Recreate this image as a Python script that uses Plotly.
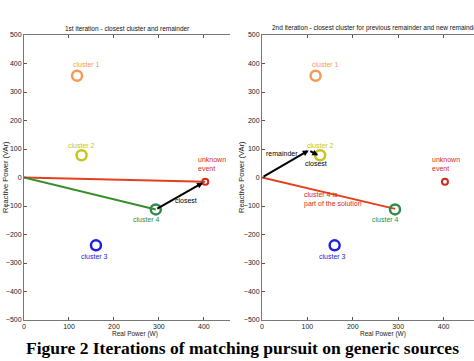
import plotly.graph_objects as go

# ---- data ----
cluster_names = ["cluster 1", "cluster 2", "cluster 3", "cluster 4"]
cluster_x = [118, 128, 160, 293]
cluster_y = [357, 78, -238, -112]
cluster_colors = ["#f59a55", "#c9c41a", "#1e22e0", "#2f8a4c"]
label_x = [140, 128, 156, 272]
label_y = [395, 114, -278, -149]

unknown_x = [403]
unknown_y = [-15]
unknown_label_x = [383, 370]
unknown_label_y = [47, 47]

# panel 1 vectors
p1_red_x = [0, 403]
p1_red_y = [0, -15]
p1_green_x = [0, 293]
p1_green_y = [0, -112]
p1_arrow = [293, -112, 398, -18]  # from x,y to x,y
p1_closest = [360, -81]

# panel 2 vectors
p2_red_x = [0, 293]
p2_red_y = [0, -110]
p2_arrow1 = [0, 0, 103, 95]
p2_arrow2 = [103, 95, 124, 78]
p2_remainder = [45, 85]
p2_closest = [118, 48]
p2_sol = [88, -77]

x_ticks = [0, 100, 200, 300, 400]
y_ticks = [-500, -400, -300, -200, -100, 0, 100, 200, 300, 400, 500]

titles = ["1st iteration - closest cluster and remainder",
          "2nd iteration - closest cluster for previous remainder and new remainder"]
caption = "Figure 2 Iterations of matching pursuit on generic sources"

W, H = 474, 361
fig = go.Figure()

SANS = "Liberation Sans, Arial"
font_small = dict(family=SANS, size=7)

for p, (xa, ya) in enumerate([("x", "y"), ("x2", "y2")]):
    if p == 0:
        fig.add_trace(go.Scatter(x=p1_red_x, y=p1_red_y, mode="lines",
                                 line=dict(color="#e2401f", width=2), xaxis=xa, yaxis=ya))
        fig.add_trace(go.Scatter(x=p1_green_x, y=p1_green_y, mode="lines",
                                 line=dict(color="#3a8d2c", width=2), xaxis=xa, yaxis=ya))
    else:
        fig.add_trace(go.Scatter(x=p2_red_x, y=p2_red_y, mode="lines",
                                 line=dict(color="#e2401f", width=2), xaxis=xa, yaxis=ya))
    for i in range(4):
        fig.add_trace(go.Scatter(x=[cluster_x[i]], y=[cluster_y[i]], mode="markers",
                                 marker=dict(symbol="circle-open", size=10, color=cluster_colors[i],
                                             line=dict(width=2.5, color=cluster_colors[i])),
                                 xaxis=xa, yaxis=ya))
        fig.add_annotation(x=label_x[i], y=label_y[i], xref=xa, yref=ya, text=cluster_names[i],
                           showarrow=False, xanchor="center", yanchor="middle",
                           font=dict(font_small, color=cluster_colors[i]))
    fig.add_trace(go.Scatter(x=unknown_x, y=unknown_y, mode="markers",
                             marker=dict(symbol="circle-open", size=6, color="#d42a1a",
                                         line=dict(width=2, color="#d42a1a")),
                             xaxis=xa, yaxis=ya))
    fig.add_annotation(x=unknown_label_x[p], y=unknown_label_y[p], xref=xa, yref=ya,
                       text="unknown<br>event", align="left", xanchor="left", yanchor="middle",
                       showarrow=False, font=dict(font_small, color="#d42a1a"))
    if p == 0:
        fig.add_annotation(xref="x domain", yref="paper", x=0.5, y=1 - 28 / H,
                           xanchor="center", yanchor="middle",
                           text=titles[0], showarrow=False,
                           font=dict(family=SANS, size=6.5, color="#111"))
    else:
        fig.add_annotation(xref="x2 domain", yref="paper", x=(270 - 262) / (W - 262), y=1 - 28 / H,
                           xanchor="left", yanchor="middle", text=titles[1], showarrow=False,
                           font=dict(family=SANS, size=6.5, color="#111"))
    fig.add_annotation(xref="paper", yref="paper", x=(135 if p == 0 else 383) / W, y=1 - 334 / H,
                       xanchor="center", yanchor="middle",
                       text="Real Power (W)", showarrow=False,
                       font=dict(family=SANS, size=6.5, color="#222"))
    fig.add_annotation(xref="paper", yref="paper", x=(5 if p == 0 else 241) / W, y=1 - 177 / H,
                       xanchor="center", yanchor="middle",
                       text="Reactive Power (VAr)", textangle=-90, showarrow=False,
                       font=dict(family=SANS, size=7.5, color="#222"))

# arrows panel 1
fig.add_annotation(xref="x", yref="y", axref="x", ayref="y",
                   x=p1_arrow[2], y=p1_arrow[3], ax=p1_arrow[0], ay=p1_arrow[1],
                   showarrow=True, arrowhead=2, arrowsize=0.6, arrowwidth=2, arrowcolor="black", text="")
fig.add_annotation(xref="x", yref="y", x=p1_closest[0], y=p1_closest[1], text="closest",
                   showarrow=False, xanchor="center", yanchor="middle", font=dict(font_small, color="black"))
# arrows panel 2
for ar in (p2_arrow1, p2_arrow2):
    fig.add_annotation(xref="x2", yref="y2", axref="x2", ayref="y2",
                       x=ar[2], y=ar[3], ax=ar[0], ay=ar[1],
                       showarrow=True, arrowhead=2, arrowsize=0.6, arrowwidth=2, arrowcolor="black", text="")
fig.add_annotation(xref="x2", yref="y2", x=p2_remainder[0], y=p2_remainder[1], text="remainder",
                   showarrow=False, xanchor="center", yanchor="middle", font=dict(font_small, color="black"))
fig.add_annotation(xref="x2", yref="y2", x=p2_closest[0], y=p2_closest[1], text="closest",
                   showarrow=False, xanchor="center", yanchor="middle", font=dict(font_small, color="black"))
fig.add_annotation(xref="x2", yref="y2", x=p2_sol[0], y=p2_sol[1], text="cluster 4 is<br>part of the solution",
                   showarrow=False, xanchor="left", yanchor="middle", align="left",
                   font=dict(font_small, color="#d42a1a"))

fig.add_annotation(xref="paper", yref="paper", x=243 / W, y=1 - 348 / H, text="<b>" + caption + "</b>",
                   showarrow=False, xanchor="center", yanchor="middle",
                   font=dict(family="Liberation Serif, Times New Roman", size=17.5, color="black"))

ydom = [1 - 320 / H, 1 - 35 / H]
common_x = dict(tickvals=x_ticks, ticks="inside", ticklen=3, tickcolor="#555", showline=True,
                linecolor="#777", linewidth=1, mirror="ticks", showgrid=False, zeroline=False,
                automargin=False, ticklabelstandoff=0,
                tickfont=dict(family=SANS, size=7, color="#222"))
common_y = dict(tickvals=y_ticks, range=[-500, 500], ticks="inside", ticklen=3, tickcolor="#555",
                showline=True, linecolor="#777", linewidth=1, showgrid=False, zeroline=False,
                automargin=False, domain=ydom,
                tickfont=dict(family=SANS, size=7, color="#222"))

fig.update_layout(
    template="none",
    width=W, height=H, margin=dict(l=0, r=0, t=0, b=0, autoexpand=False),
    paper_bgcolor="white", plot_bgcolor="white", showlegend=False,
    xaxis=dict(common_x, domain=[24 / W, 230 / W], range=[0, 458], anchor="y"),
    yaxis=dict(common_y, anchor="x"),
    xaxis2=dict(common_x, domain=[262 / W, 1.0], range=[0, 467], anchor="y2"),
    yaxis2=dict(common_y, anchor="x2"),
)

fig.write_html("out.html", config={"displayModeBar": False},
               post_script="document.body.style.margin='0';document.body.style.overflow='hidden';")
